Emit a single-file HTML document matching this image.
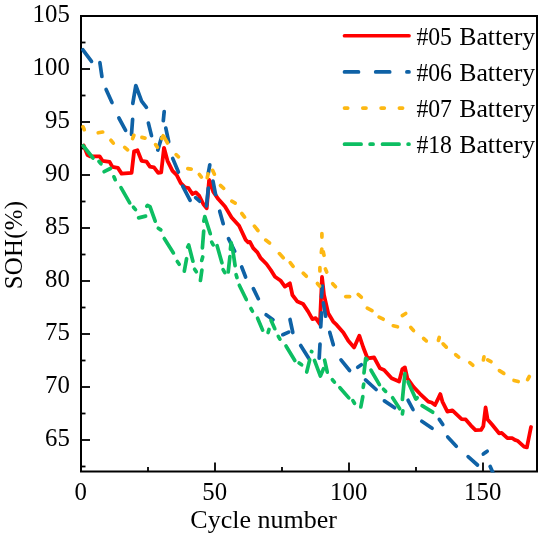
<!DOCTYPE html>
<html><head><meta charset="utf-8"><title>SOH vs Cycle number</title>
<style>html,body{margin:0;padding:0;background:#fff}svg{display:block}</style></head>
<body>
<svg width="550" height="541" viewBox="0 0 550 541">
<rect width="550" height="541" fill="#fff"/>
<defs><clipPath id="c"><rect x="79.9" y="14.9" width="458.2" height="457.7"/></clipPath></defs>
<rect x="81.0" y="16.0" width="456.0" height="455.5" fill="none" stroke="#000" stroke-width="2"/>
<g stroke="#000" stroke-width="1.8">
<line x1="81.0" x2="90.0" y1="440.0" y2="440.0"/>
<line x1="81.0" x2="90.0" y1="387.0" y2="387.0"/>
<line x1="81.0" x2="90.0" y1="334.0" y2="334.0"/>
<line x1="81.0" x2="90.0" y1="281.0" y2="281.0"/>
<line x1="81.0" x2="90.0" y1="228.0" y2="228.0"/>
<line x1="81.0" x2="90.0" y1="175.0" y2="175.0"/>
<line x1="81.0" x2="90.0" y1="122.0" y2="122.0"/>
<line x1="81.0" x2="90.0" y1="69.0" y2="69.0"/>
<line x1="81.0" x2="85.5" y1="466.5" y2="466.5"/>
<line x1="81.0" x2="85.5" y1="413.5" y2="413.5"/>
<line x1="81.0" x2="85.5" y1="360.5" y2="360.5"/>
<line x1="81.0" x2="85.5" y1="307.5" y2="307.5"/>
<line x1="81.0" x2="85.5" y1="254.5" y2="254.5"/>
<line x1="81.0" x2="85.5" y1="201.5" y2="201.5"/>
<line x1="81.0" x2="85.5" y1="148.5" y2="148.5"/>
<line x1="81.0" x2="85.5" y1="95.5" y2="95.5"/>
<line x1="81.0" x2="85.5" y1="42.5" y2="42.5"/>
<line y1="471.5" y2="462.5" x1="215.0" x2="215.0"/>
<line y1="471.5" y2="462.5" x1="349.0" x2="349.0"/>
<line y1="471.5" y2="462.5" x1="483.0" x2="483.0"/>
<line y1="471.5" y2="467.0" x1="148.0" x2="148.0"/>
<line y1="471.5" y2="467.0" x1="282.0" x2="282.0"/>
<line y1="471.5" y2="467.0" x1="416.0" x2="416.0"/>
</g>
<g clip-path="url(#c)" fill="none" stroke-linecap="round" stroke-linejoin="round">
<polyline points="83.7,145.5 87.5,155.0 90.0,156.3 99.6,156.3 102.5,160.8 109.6,161.9 112.4,166.9 117.9,167.9 121.6,173.6 131.6,172.9 134.1,151.3 137.4,150.3 141.6,160.8 146.5,161.6 149.9,166.6 154.0,167.4 158.2,172.9 161.2,172.4 164.0,147.8 167.5,160.8 172.5,170.8 176.6,174.9 180.8,183.2 185.0,187.4 188.6,188.2 192.4,194.0 195.8,192.4 199.1,195.7 203.3,204.0 206.7,208.3 209.1,179.9 210.7,183.2 213.2,191.6 218.3,199.1 225.0,206.6 231.6,217.4 239.1,225.8 245.7,239.9 248.2,242.4 249.9,241.9 253.2,248.2 257.4,252.4 260.7,258.2 266.5,264.0 270.8,270.0 275.0,276.7 280.8,280.8 284.9,286.6 289.9,283.3 292.4,295.0 297.4,301.6 303.2,304.1 308.2,311.6 312.4,319.1 315.7,318.2 319.9,324.1 322.0,277.0 324.0,295.0 328.2,313.3 333.2,321.6 336.7,324.9 343.3,332.4 348.3,340.7 354.1,347.4 359.3,335.7 363.3,347.5 367.5,358.3 374.1,357.5 380.0,368.3 384.1,369.9 391.6,378.3 399.1,381.6 402.4,369.1 404.9,367.4 407.4,378.3 413.2,386.6 420.0,393.8 428.3,401.6 431.6,402.5 435.0,405.0 438.3,398.3 440.3,394.1 442.4,401.6 447.4,411.6 452.4,410.3 461.6,419.1 465.7,419.4 470.7,425.3 475.5,430.1 481.0,429.9 483.3,426.2 485.6,407.5 487.6,419.5 492.0,424.5 499.1,433.3 501.6,432.9 507.4,438.2 512.4,438.2 514.9,439.9 517.4,440.7 524.0,446.6 526.9,447.4 531.0,427.0" stroke="#FF0000" stroke-width="3.8"/>
<polyline points="82.9,49.8 91.5,61.4" stroke="#0F62A6" stroke-width="3.7"/>
<polyline points="99.9,62.7 101.9,76.5" stroke="#0F62A6" stroke-width="3.7"/>
<polyline points="106.1,89.5 112.0,102.6" stroke="#0F62A6" stroke-width="3.7"/>
<polyline points="118.9,118.0 125.6,130.4" stroke="#0F62A6" stroke-width="3.7"/>
<polyline points="131.5,134.3 132.6,119.3" stroke="#0F62A6" stroke-width="3.7"/>
<polyline points="132.8,103.4 135.8,85.5 141.6,101.1 146.4,107.4" stroke="#0F62A6" stroke-width="3.7"/>
<polyline points="148.4,123.1 151.5,135.6" stroke="#0F62A6" stroke-width="3.7"/>
<polyline points="157.8,150.1 161.5,137.6" stroke="#0F62A6" stroke-width="3.7"/>
<polyline points="163.3,120.7 164.2,111.5" stroke="#0F62A6" stroke-width="3.7"/>
<polyline points="165.8,128.1 168.7,141.7" stroke="#0F62A6" stroke-width="3.7"/>
<polyline points="172.7,158.4 178.4,172.0" stroke="#0F62A6" stroke-width="3.7"/>
<polyline points="182.7,186.1 190.1,200.3" stroke="#0F62A6" stroke-width="3.7"/>
<polyline points="195.6,197.7 199.6,201.2" stroke="#0F62A6" stroke-width="3.7"/>
<polyline points="206.5,205.9 208.3,188.2" stroke="#0F62A6" stroke-width="3.7"/>
<polyline points="208.3,173.2 209.8,164.8" stroke="#0F62A6" stroke-width="3.7"/>
<polyline points="213.0,181.1 215.6,194.5" stroke="#0F62A6" stroke-width="3.7"/>
<polyline points="219.7,211.2 223.2,223.7" stroke="#0F62A6" stroke-width="3.7"/>
<polyline points="228.5,238.6 234.7,251.2" stroke="#0F62A6" stroke-width="3.7"/>
<polyline points="241.7,267.0 245.6,277.0" stroke="#0F62A6" stroke-width="3.7"/>
<polyline points="253.4,288.6 258.3,298.7" stroke="#0F62A6" stroke-width="3.7"/>
<polyline points="266.1,314.8 273.0,319.7" stroke="#0F62A6" stroke-width="3.7"/>
<polyline points="282.8,334.7 288.7,332.1" stroke="#0F62A6" stroke-width="3.7"/>
<polyline points="290.0,319.5 292.8,332.5" stroke="#0F62A6" stroke-width="3.7"/>
<polyline points="300.7,345.5 308.7,358.3" stroke="#0F62A6" stroke-width="3.7"/>
<polyline points="319.2,358.2 320.0,344.2" stroke="#0F62A6" stroke-width="3.7"/>
<polyline points="320.7,327.0 321.5,312.8" stroke="#0F62A6" stroke-width="3.7"/>
<polyline points="321.5,297.0 322.4,286.2" stroke="#0F62A6" stroke-width="3.7"/>
<polyline points="323.3,302.8 325.6,316.2" stroke="#0F62A6" stroke-width="3.7"/>
<polyline points="329.8,332.4 333.3,344.8" stroke="#0F62A6" stroke-width="3.7"/>
<polyline points="341.0,359.9 349.6,370.5" stroke="#0F62A6" stroke-width="3.7"/>
<polyline points="357.7,367.2 361.3,364.8" stroke="#0F62A6" stroke-width="3.7"/>
<polyline points="365.5,379.9 376.1,389.5" stroke="#0F62A6" stroke-width="3.7"/>
<polyline points="384.4,400.9 394.6,407.7" stroke="#0F62A6" stroke-width="3.7"/>
<polyline points="408.1,400.3 413.0,409.5" stroke="#0F62A6" stroke-width="3.7"/>
<polyline points="421.8,421.2 432.1,428.2" stroke="#0F62A6" stroke-width="3.7"/>
<polyline points="439.3,419.4 442.8,424.5" stroke="#0F62A6" stroke-width="3.7"/>
<polyline points="447.7,436.9 456.3,446.2" stroke="#0F62A6" stroke-width="3.7"/>
<polyline points="468.1,456.7 477.5,465.0" stroke="#0F62A6" stroke-width="3.7"/>
<polyline points="483.3,454.1 485.3,452.6 487.2,451.3" stroke="#0F62A6" stroke-width="3.7"/>
<polyline points="490.2,466.4 494.4,476.1" stroke="#0F62A6" stroke-width="3.7"/>
<polyline points="83.0,126.8 84.3,129.7" stroke="#FDB813" stroke-width="3.7"/>
<polyline points="98.2,132.8 102.7,132.0" stroke="#FDB813" stroke-width="3.7"/>
<polyline points="110.9,140.3 113.3,143.1" stroke="#FDB813" stroke-width="3.7"/>
<polyline points="124.7,147.4 127.6,149.9" stroke="#FDB813" stroke-width="3.7"/>
<polyline points="132.6,138.6 133.9,135.3" stroke="#FDB813" stroke-width="3.7"/>
<polyline points="141.9,137.4 145.0,138.1" stroke="#FDB813" stroke-width="3.7"/>
<polyline points="155.6,144.6 157.4,147.2" stroke="#FDB813" stroke-width="3.7"/>
<polyline points="161.7,138.5 163.2,135.8" stroke="#FDB813" stroke-width="3.7"/>
<polyline points="164.0,136.9 167.5,143.0" stroke="#FDB813" stroke-width="3.7"/>
<polyline points="176.1,154.7 178.5,156.8" stroke="#FDB813" stroke-width="3.7"/>
<polyline points="187.8,168.6 191.2,169.1" stroke="#FDB813" stroke-width="3.7"/>
<polyline points="199.3,174.4 201.4,177.1" stroke="#FDB813" stroke-width="3.7"/>
<polyline points="207.2,177.8 208.1,174.0" stroke="#FDB813" stroke-width="3.7"/>
<polyline points="212.6,170.3 214.4,174.2" stroke="#FDB813" stroke-width="3.7"/>
<polyline points="220.5,185.5 223.7,188.3" stroke="#FDB813" stroke-width="3.7"/>
<polyline points="231.8,201.2 235.2,203.1" stroke="#FDB813" stroke-width="3.7"/>
<polyline points="241.8,213.5 244.6,217.1" stroke="#FDB813" stroke-width="3.7"/>
<polyline points="254.4,226.1 257.9,230.5" stroke="#FDB813" stroke-width="3.7"/>
<polyline points="265.7,240.1 269.6,243.0" stroke="#FDB813" stroke-width="3.7"/>
<polyline points="279.4,253.6 283.2,257.7" stroke="#FDB813" stroke-width="3.7"/>
<polyline points="290.2,262.7 293.1,266.3" stroke="#FDB813" stroke-width="3.7"/>
<polyline points="303.2,273.2 306.3,276.2" stroke="#FDB813" stroke-width="3.7"/>
<polyline points="317.4,283.5 319.6,286.1" stroke="#FDB813" stroke-width="3.7"/>
<polyline points="319.9,270.9 319.9,267.7" stroke="#FDB813" stroke-width="3.7"/>
<polyline points="321.3,252.5 321.8,249.0" stroke="#FDB813" stroke-width="3.7"/>
<polyline points="323.3,252.0 324.0,255.3" stroke="#FDB813" stroke-width="3.7"/>
<polyline points="321.9,237.1 321.9,233.7" stroke="#FDB813" stroke-width="3.7"/>
<polyline points="325.4,269.0 326.7,272.0" stroke="#FDB813" stroke-width="3.7"/>
<polyline points="332.7,283.7 335.5,286.7" stroke="#FDB813" stroke-width="3.7"/>
<polyline points="345.8,296.6 349.6,296.6" stroke="#FDB813" stroke-width="3.7"/>
<polyline points="358.2,294.4 361.3,297.2" stroke="#FDB813" stroke-width="3.7"/>
<polyline points="367.3,308.1 372.0,310.6" stroke="#FDB813" stroke-width="3.7"/>
<polyline points="379.1,317.1 383.2,319.2" stroke="#FDB813" stroke-width="3.7"/>
<polyline points="393.3,325.8 397.5,326.8" stroke="#FDB813" stroke-width="3.7"/>
<polyline points="402.3,315.6 405.7,313.5" stroke="#FDB813" stroke-width="3.7"/>
<polyline points="410.8,327.5 413.5,330.5" stroke="#FDB813" stroke-width="3.7"/>
<polyline points="423.6,338.5 426.3,340.9" stroke="#FDB813" stroke-width="3.7"/>
<polyline points="438.4,340.4 439.3,337.4" stroke="#FDB813" stroke-width="3.7"/>
<polyline points="443.1,343.9 446.3,347.1" stroke="#FDB813" stroke-width="3.7"/>
<polyline points="455.7,354.7 458.7,357.1" stroke="#FDB813" stroke-width="3.7"/>
<polyline points="469.8,362.7 472.8,365.2" stroke="#FDB813" stroke-width="3.7"/>
<polyline points="483.4,360.0 484.0,356.9" stroke="#FDB813" stroke-width="3.7"/>
<polyline points="487.7,359.9 491.0,361.7" stroke="#FDB813" stroke-width="3.7"/>
<polyline points="499.4,370.6 503.8,373.4" stroke="#FDB813" stroke-width="3.7"/>
<polyline points="514.0,380.5 518.2,381.5" stroke="#FDB813" stroke-width="3.7"/>
<polyline points="527.6,379.6 529.3,376.5" stroke="#FDB813" stroke-width="3.7"/>
<polyline points="83.3,145.8 93.0,158.0" stroke="#0DBE62" stroke-width="3.7"/>
<polyline points="99.0,161.5 101.0,163.8" stroke="#0DBE62" stroke-width="3.7"/>
<polyline points="104.1,171.7 110.4,168.5" stroke="#0DBE62" stroke-width="3.7"/>
<polyline points="113.9,176.8 115.2,179.7" stroke="#0DBE62" stroke-width="3.7"/>
<polyline points="121.0,187.7 129.7,202.9" stroke="#0DBE62" stroke-width="3.7"/>
<polyline points="133.5,207.2 135.5,209.6" stroke="#0DBE62" stroke-width="3.7"/>
<polyline points="138.6,217.9 145.6,216.1" stroke="#0DBE62" stroke-width="3.7"/>
<polyline points="146.8,206.2 147.5,205.3 150.0,206.6 155.2,221.2" stroke="#0DBE62" stroke-width="3.7"/>
<polyline points="158.3,228.2 160.8,229.9" stroke="#0DBE62" stroke-width="3.7"/>
<polyline points="164.3,238.5 173.4,252.9" stroke="#0DBE62" stroke-width="3.7"/>
<polyline points="177.3,261.5 179.2,264.2" stroke="#0DBE62" stroke-width="3.7"/>
<polyline points="184.3,271.2 186.6,258.7" stroke="#0DBE62" stroke-width="3.7"/>
<polyline points="187.7,247.1 188.7,245.0 192.9,261.2" stroke="#0DBE62" stroke-width="3.7"/>
<polyline points="194.6,269.2 196.3,271.8" stroke="#0DBE62" stroke-width="3.7"/>
<polyline points="200.4,280.4 201.9,270.0" stroke="#0DBE62" stroke-width="3.7"/>
<polyline points="201.7,260.4 202.7,257.0" stroke="#0DBE62" stroke-width="3.7"/>
<polyline points="202.4,247.8 203.7,231.1" stroke="#0DBE62" stroke-width="3.7"/>
<polyline points="203.8,221.1 204.8,216.6 210.3,233.7" stroke="#0DBE62" stroke-width="3.7"/>
<polyline points="211.7,242.1 213.2,244.8" stroke="#0DBE62" stroke-width="3.7"/>
<polyline points="217.1,245.7 221.9,262.8" stroke="#0DBE62" stroke-width="3.7"/>
<polyline points="223.1,269.6 224.8,272.6" stroke="#0DBE62" stroke-width="3.7"/>
<polyline points="228.2,272.0 229.9,256.6" stroke="#0DBE62" stroke-width="3.7"/>
<polyline points="230.4,249.1 231.1,242.6 232.6,249.0 235.1,265.6" stroke="#0DBE62" stroke-width="3.7"/>
<polyline points="236.1,274.7 237.0,277.6" stroke="#0DBE62" stroke-width="3.7"/>
<polyline points="239.3,285.3 246.3,299.5" stroke="#0DBE62" stroke-width="3.7"/>
<polyline points="250.9,308.5 252.4,311.2" stroke="#0DBE62" stroke-width="3.7"/>
<polyline points="257.6,318.2 262.6,330.1" stroke="#0DBE62" stroke-width="3.7"/>
<polyline points="268.1,332.5 269.0,329.5" stroke="#0DBE62" stroke-width="3.7"/>
<polyline points="271.0,320.3 274.8,328.7" stroke="#0DBE62" stroke-width="3.7"/>
<polyline points="278.3,336.4 279.9,339.1" stroke="#0DBE62" stroke-width="3.7"/>
<polyline points="286.0,346.0 294.8,360.5" stroke="#0DBE62" stroke-width="3.7"/>
<polyline points="299.1,363.0 301.6,364.8" stroke="#0DBE62" stroke-width="3.7"/>
<polyline points="306.7,372.0 309.7,359.9" stroke="#0DBE62" stroke-width="3.7"/>
<polyline points="311.4,351.5 311.6,351.6 311.8,351.7" stroke="#0DBE62" stroke-width="3.7"/>
<polyline points="314.5,360.4 320.4,376.1 323.5,368.7" stroke="#0DBE62" stroke-width="3.7"/>
<polyline points="324.6,360.2 327.3,372.2" stroke="#0DBE62" stroke-width="3.7"/>
<polyline points="332.4,379.7 334.4,382.1" stroke="#0DBE62" stroke-width="3.7"/>
<polyline points="339.9,387.7 348.8,397.9" stroke="#0DBE62" stroke-width="3.7"/>
<polyline points="352.9,400.6 354.5,403.3" stroke="#0DBE62" stroke-width="3.7"/>
<polyline points="360.8,407.0 362.8,396.6" stroke="#0DBE62" stroke-width="3.7"/>
<polyline points="363.2,387.3 363.7,384.2" stroke="#0DBE62" stroke-width="3.7"/>
<polyline points="364.0,372.9 365.7,358.3 367.1,359.7" stroke="#0DBE62" stroke-width="3.7"/>
<polyline points="371.0,370.2 379.4,384.6" stroke="#0DBE62" stroke-width="3.7"/>
<polyline points="383.5,389.3 385.6,391.4" stroke="#0DBE62" stroke-width="3.7"/>
<polyline points="392.6,397.7 399.7,408.7" stroke="#0DBE62" stroke-width="3.7"/>
<polyline points="402.4,413.9 402.9,410.8" stroke="#0DBE62" stroke-width="3.7"/>
<polyline points="402.4,399.5 404.9,373.7" stroke="#0DBE62" stroke-width="3.7"/>
<polyline points="408.1,382.0 415.8,399.1 417.2,397.8" stroke="#0DBE62" stroke-width="3.7"/>
<polyline points="422.1,405.7 432.7,412.2" stroke="#0DBE62" stroke-width="3.7"/>
</g>
<g font-family="'Liberation Serif', serif" font-size="24.8" fill="#000">
<text x="69.8" y="446.0" text-anchor="end">65</text>
<text x="69.8" y="393.0" text-anchor="end">70</text>
<text x="69.8" y="340.0" text-anchor="end">75</text>
<text x="69.8" y="287.0" text-anchor="end">80</text>
<text x="69.8" y="234.0" text-anchor="end">85</text>
<text x="69.8" y="181.0" text-anchor="end">90</text>
<text x="69.8" y="128.0" text-anchor="end">95</text>
<text x="69.8" y="75.0" text-anchor="end">100</text>
<text x="69.8" y="22.0" text-anchor="end">105</text>
<text x="80.7" y="500.2" text-anchor="middle">0</text>
<text x="214.7" y="500.2" text-anchor="middle">50</text>
<text x="348.7" y="500.2" text-anchor="middle">100</text>
<text x="482.7" y="500.2" text-anchor="middle">150</text>
<text x="263.6" y="527.8" text-anchor="middle" font-size="24.8" textLength="146.6" lengthAdjust="spacingAndGlyphs">Cycle number</text>
<text transform="translate(21.6,245.0) rotate(-90)" text-anchor="middle" font-size="24.8" letter-spacing="0.3">SOH(%)</text>
<text x="416.4" y="45.0" font-size="24.8"><tspan textLength="35.6" lengthAdjust="spacingAndGlyphs">#05</tspan> <tspan x="459.2" textLength="76" lengthAdjust="spacingAndGlyphs">Battery</tspan></text>
<text x="416.4" y="81.1" font-size="24.8"><tspan textLength="35.6" lengthAdjust="spacingAndGlyphs">#06</tspan> <tspan x="459.2" textLength="76" lengthAdjust="spacingAndGlyphs">Battery</tspan></text>
<text x="416.4" y="117.3" font-size="24.8"><tspan textLength="35.6" lengthAdjust="spacingAndGlyphs">#07</tspan> <tspan x="459.2" textLength="76" lengthAdjust="spacingAndGlyphs">Battery</tspan></text>
<text x="416.4" y="153.4" font-size="24.8"><tspan textLength="35.6" lengthAdjust="spacingAndGlyphs">#18</tspan> <tspan x="459.2" textLength="76" lengthAdjust="spacingAndGlyphs">Battery</tspan></text>
</g>
<g fill="none" stroke-linecap="round" stroke-width="3.7">
<line x1="344.5" x2="409.0" y1="35.75" y2="35.75" stroke="#FF0000"/>
<line x1="344.5" x2="409.0" y1="71.9" y2="71.9" stroke="#0F62A6" stroke-dasharray="14 17.2"/>
<line x1="344.5" x2="409.0" y1="108.1" y2="108.1" stroke="#FDB813" stroke-dasharray="3.2 15.1"/>
<line x1="344.5" x2="409.0" y1="144.2" y2="144.2" stroke="#0DBE62" stroke-dasharray="16.6 9 3 9.4"/>
</g>
</svg>
</body></html>
